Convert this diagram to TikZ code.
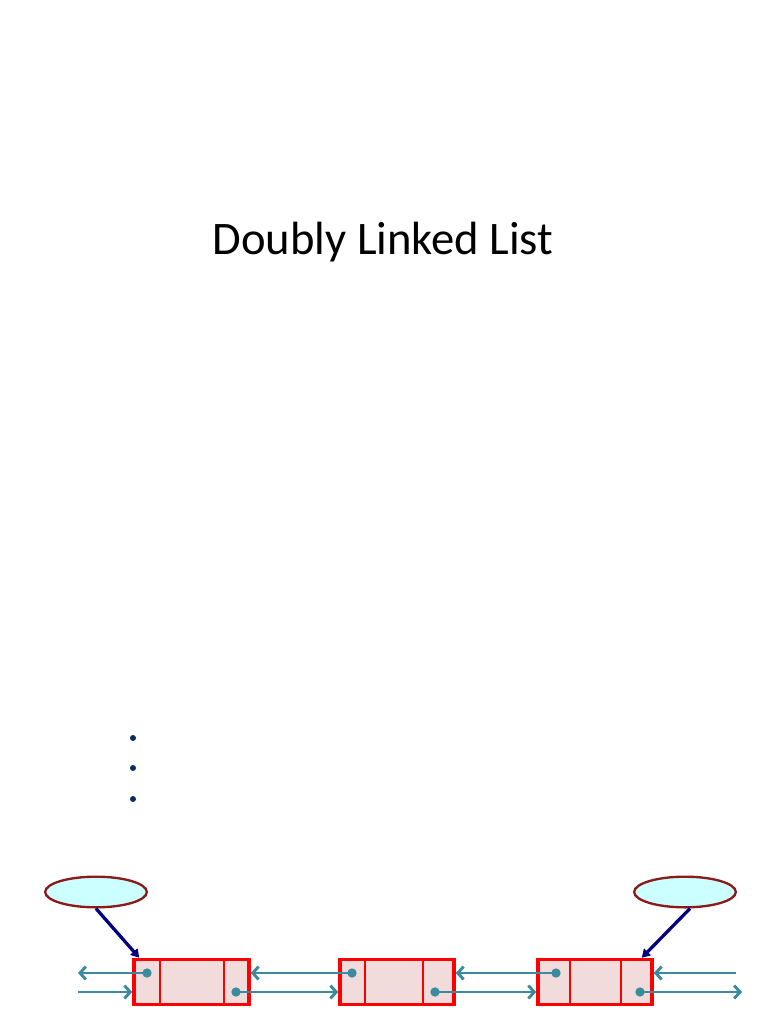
\documentclass[tikz,border=0pt]{standalone}
\usepackage{fontspec}
\setmainfont{Carlito}
\usetikzlibrary{arrows.meta,shapes.geometric,calc}
\definecolor{teal1}{HTML}{3A8AA0}
\definecolor{cellfill}{HTML}{F2DCDB}
\definecolor{ellfill}{HTML}{CCFFFF}
\definecolor{elldraw}{HTML}{8B1A1A}
\definecolor{navy1}{HTML}{000080}
\definecolor{bulletc}{HTML}{0A2A6A}
\begin{document}
\begin{tikzpicture}[x=0.03cm,y=-0.03cm,
  listnode/.style={draw=red,line width=3pt,fill=cellfill,minimum height=1.35cm,inner sep=0pt,rectangle},
  divider/.style={draw=red,line width=2pt},
  ptrlink/.style={draw=teal1,line width=2.5pt,-{Straight Barb[length=5pt,width=11pt,line width=2.5pt]}},
  ptrdot/.style={circle,fill=teal1,inner sep=0pt,minimum size=0.28cm},
  label/.style={ellipse,draw=elldraw,fill=ellfill,line width=2pt,minimum width=3.05cm,minimum height=0.92cm,inner sep=0pt},
  headarrow/.style={draw=navy1,line width=2.8pt,-{Triangle[length=7pt,width=8pt]}},
  bulletdot/.style={circle,fill=bulletc,inner sep=0pt,minimum size=0.18cm}
]
\useasboundingbox (0,0) rectangle (768,1024);

\node[font=\fontsize{39.8}{48}\selectfont] (title) at (383,242) {Doubly Linked List};

\node[bulletdot] (b1) at (133,738) {};
\node[bulletdot] (b2) at (133,768) {};
\node[bulletdot] (b3) at (133,799) {};

% list nodes
\node[listnode,minimum width=3.45cm] (n1) at (191.5,982) {};
\node[listnode,minimum width=3.42cm] (n2) at (397,982) {};
\node[listnode,minimum width=3.42cm] (n3) at (595,982) {};

\draw[divider] (160,959) -- (160,1005);
\draw[divider] (224,959) -- (224,1005);
\draw[divider] (365,959) -- (365,1005);
\draw[divider] (423,959) -- (423,1005);
\draw[divider] (570,959) -- (570,1005);
\draw[divider] (621,959) -- (621,1005);

% ellipses
\node[label] (headL) at (96,892) {};
\node[label] (headR) at (685,892) {};

% pointer dots
\node[ptrdot] (p1) at (147,973) {};
\node[ptrdot] (q1) at (236,992) {};
\node[ptrdot] (p2) at (352,973) {};
\node[ptrdot] (q2) at (435,992) {};
\node[ptrdot] (p3) at (556,973) {};
\node[ptrdot] (q3) at (640,992) {};

\coordinate (leftEndTop) at (78,973);
\coordinate (leftEndBot) at (78,992);
\coordinate (rightEndTop) at (736,973);
\coordinate (rightEndBot) at (742,992);

% prev links (top row)
\draw[ptrlink] (p1.center) -- (leftEndTop);
\draw[ptrlink] (p2.center) -- (n1.east |- p2);
\draw[ptrlink] (p3.center) -- (n2.east |- p3);
\draw[ptrlink] (rightEndTop) -- (n3.east |- rightEndTop);

% next links (bottom row)
\draw[ptrlink] (leftEndBot) -- (n1.west |- leftEndBot);
\draw[ptrlink] (q1.center) -- (n2.west |- q1);
\draw[ptrlink] (q2.center) -- (n3.west |- q2);
\draw[ptrlink] (q3.center) -- (rightEndBot);

% head/tail arrows
\draw[headarrow] (headL.south) -- ($(n1.north west)+(7,0)$);
\draw[headarrow] ($(headR.south)+(5,0)$) -- ($(n3.north east)+(-12,0)$);
\end{tikzpicture}
\end{document}
